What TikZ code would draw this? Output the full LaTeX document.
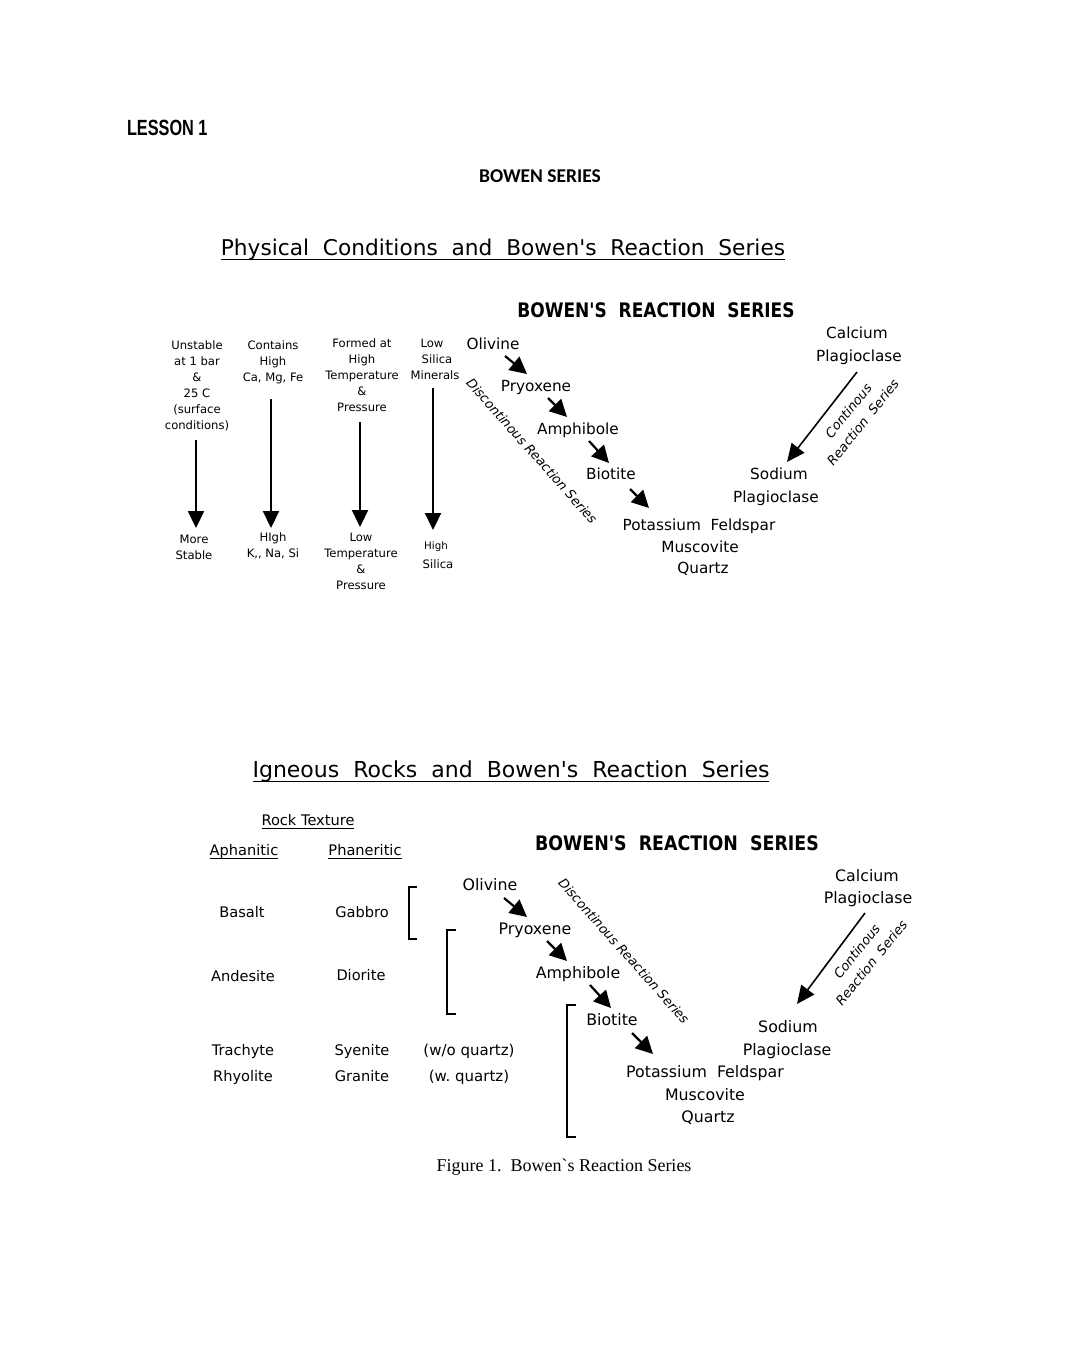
\documentclass[tikz,border=0pt]{standalone}
\usepackage{fontspec}
\usepackage{graphicx}
\usetikzlibrary{arrows.meta}
\setmainfont{DejaVu Sans}
\newfontfamily\genfont{DejaVu Sans}
\newfontfamily\arlfont{Liberation Sans}
\newfontfamily\carlfont{Carlito}
\newfontfamily\tmsfont{Liberation Serif}
\newcommand\fsz[1]{\fontsize{#1}{#1}\selectfont}
\tikzset{
  every node/.style={inner sep=0pt, outer sep=0pt},
  cond/.style={font=\genfont\fsz{11.6}, anchor=base},
  mina/.style={font=\genfont\fsz{15.3}, anchor=base},
  minb/.style={font=\genfont\fsz{15.8}, anchor=base},
  rock/.style={font=\genfont\fsz{14.6}, anchor=base},
  brs/.style={font=\genfont\bfseries\fsz{20}, anchor=base},
  ttl/.style={font=\genfont\fsz{21.7}, anchor=base},
  rot/.style={font=\genfont\itshape\fontsize{13}{18.6}\selectfont, align=center},
  vline/.style={line width=2.2pt, -{Triangle[width=16pt,length=17pt]}},
  darr/.style={line width=2.2pt, -{Triangle[width=17pt,length=17pt]}},
  carr/.style={line width=1.6pt, -{Triangle[width=16pt,length=18pt]}},
  brk/.style={line width=1.6pt},
  ul/.style={line width=1pt},
}
\begin{document}
\begin{tikzpicture}[x=1pt,y=-1pt]
\useasboundingbox (0,0) rectangle (1080,1361);
\fill[white] (0,0) rectangle (1080,1361);

% headers
\node[anchor=base west] (lesson) at (127,135) {\scalebox{0.74}[1]{\arlfont\bfseries\fsz{22}LESSON 1}};
\node[anchor=base] (bseries) at (540,182) {\carlfont\bfseries\fsz{19.5}BOWEN SERIES};

% ---------- Top section ----------
\node[ttl] (t1) at (503,255) {Physical\ \ Conditions\ \ and\ \ Bowen\textquotesingle s\ \ Reaction\ \ Series};
\draw[ul] ([yshift=-4pt]t1.base west) -- ([yshift=-4pt]t1.base east);
\node[brs] (brs1) at (656,317) {\scalebox{0.85}[1]{BOWEN\textquotesingle S\ \ REACTION\ \ SERIES}};

% condition columns
\foreach \t [count=\i] in {{Unstable},{at 1 bar},{\&},{25 C},{(surface},{conditions)}}
  \node[cond] (ca\i) at (197,{349+16*(\i-1)}) {\t};
\node[cond] (cb1) at (194,543) {More};
\node[cond] (cb2) at (194,559) {Stable};
\coordinate (a1s) at (196,440);
\coordinate (a1e) at (196,528);
\draw[vline] (a1s) -- (a1e);

\foreach \t [count=\i] in {{Contains},{High},{Ca, Mg, Fe}}
  \node[cond] (da\i) at (273,{349+16*(\i-1)}) {\t};
\node[cond] (db1) at (273,541) {HIgh};
\node[cond] (db2) at (273,557) {K,, Na, Si};
\coordinate (a2s) at (271,399);
\coordinate (a2e) at (271,528);
\draw[vline] (a2s) -- (a2e);

\foreach \t [count=\i] in {{Formed at},{High},{Temperature},{\&},{Pressure}}
  \node[cond] (ea\i) at (362,{347+16*(\i-1)}) {\t};
\foreach \t [count=\i] in {{Low},{Temperature},{\&},{Pressure}}
  \node[cond] (eb\i) at (361,{541+16*(\i-1)}) {\t};
\coordinate (a3s) at (360,422);
\coordinate (a3e) at (360,527);
\draw[vline] (a3s) -- (a3e);

\node[cond] (fa1) at (432,347) {Low};
\node[cond] (fa2) at (437,363) {Silica};
\node[cond] (fa3) at (435,379) {Minerals};
\node[cond, font=\genfont\fsz{10.3}] (fb1) at (436,549) {High};
\node[cond] (fb2) at (438,568) {Silica};
\coordinate (a4s) at (433,388);
\coordinate (a4e) at (433,530);
\draw[vline] (a4s) -- (a4e);

% minerals top
\node[mina] (ol1) at (493,349.5) {Olivine};
\node[mina] (py1) at (536,391.5) {Pryoxene};
\node[mina] (am1) at (578,434.5) {Amphibole};
\node[mina] (bi1) at (611,479.5) {Biotite};
\node[mina] (kf1) at (699,530.5) {Potassium\ \ Feldspar};
\node[mina] (mu1) at (700,552.5) {Muscovite};
\node[mina] (qz1) at (703,573.5) {Quartz};
\node[mina] (ca1) at (857,338.5) {Calcium};
\node[mina] (cp1) at (859,361.5) {Plagioclase};
\node[mina] (so1) at (779,479.5) {Sodium};
\node[mina] (sp1) at (776,502.5) {Plagioclase};

\coordinate (m1a) at (505,356); \coordinate (m1b) at (527,374);
\coordinate (m2a) at (548,398); \coordinate (m2b) at (567,417);
\coordinate (m3a) at (589,441); \coordinate (m3b) at (609,463);
\coordinate (m4a) at (630,489); \coordinate (m4b) at (649,508);
\draw[darr] (m1a) -- (m1b);
\draw[darr] (m2a) -- (m2b);
\draw[darr] (m3a) -- (m3b);
\draw[darr] (m4a) -- (m4b);
\coordinate (c1a) at (857,372); \coordinate (c1b) at (787,462);
\draw[carr] (c1a) -- (c1b);

\node[rot, rotate=-48.3] (disc1) at (532,451) {Discontinous Reaction Series};
\node[rot, rotate=51] (cont1) at (855.5,416.5) {Continous\\Reaction\ \ Series};

% ---------- Bottom section ----------
\node[ttl, font=\genfont\fsz{22}] (t2) at (511,777) {Igneous\ \ Rocks\ \ and\ \ Bowen\textquotesingle s\ \ Reaction\ \ Series};
\draw[ul] ([yshift=-4pt]t2.base west) -- ([yshift=-4pt]t2.base east);
\node[brs] (brs2) at (677,850) {\scalebox{0.87}[1]{BOWEN\textquotesingle S\ \ REACTION\ \ SERIES}};

\node[rock] (rt) at (308,825) {Rock Texture};
\draw[ul] ([yshift=-3pt]rt.base west) -- ([yshift=-3pt]rt.base east);
\node[rock] (aph) at (244,855) {Aphanitic};
\draw[ul] ([yshift=-3pt]aph.base west) -- ([yshift=-3pt]aph.base east);
\node[rock] (phan) at (365,855) {Phaneritic};
\draw[ul] ([yshift=-3pt]phan.base west) -- ([yshift=-3pt]phan.base east);

\node[rock] (basalt) at (242,917) {Basalt};
\node[rock] (gabbro) at (362,917) {Gabbro};
\node[rock] (andes) at (243,981) {Andesite};
\node[rock] (dior) at (361,980) {Diorite};
\node[rock] (trach) at (243,1055) {Trachyte};
\node[rock] (syen) at (362,1055) {Syenite};
\node[rock] (rhyo) at (243,1081) {Rhyolite};
\node[rock] (gran) at (362,1081) {Granite};
\node[rock, font=\genfont\fsz{15}] (woq) at (469,1055) {(w/o\ quartz)};
\node[rock, font=\genfont\fsz{15}] (wq) at (469,1081) {(w.\ quartz)};

% brackets
\draw[brk] (417,887) -- (409,887) -- (409,939) -- (417,939);
\draw[brk] (456,930) -- (447,930) -- (447,1014) -- (456,1014);
\draw[brk] (576,1005) -- (567,1005) -- (567,1137) -- (576,1137);

% minerals bottom
\node[minb] (ol2) at (490,890.7) {Olivine};
\node[minb] (py2) at (535,934.7) {Pryoxene};
\node[minb] (am2) at (578,978.7) {Amphibole};
\node[minb] (bi2) at (612,1025.7) {Biotite};
\node[minb] (kf2) at (705,1077.7) {Potassium\ \ Feldspar};
\node[minb] (mu2) at (705,1100.7) {Muscovite};
\node[minb] (qz2) at (708,1122.7) {Quartz};
\node[minb] (ca2) at (867,881.7) {Calcium};
\node[minb] (cp2) at (868,903.7) {Plagioclase};
\node[minb] (so2) at (788,1032.7) {Sodium};
\node[minb] (sp2) at (787,1055.7) {Plagioclase};

\coordinate (n1a) at (504,898); \coordinate (n1b) at (527,917);
\coordinate (n2a) at (547,941); \coordinate (n2b) at (567,961);
\coordinate (n3a) at (590,985); \coordinate (n3b) at (611,1008);
\coordinate (n4a) at (632,1033); \coordinate (n4b) at (653,1054);
\draw[darr] (n1a) -- (n1b);
\draw[darr] (n2a) -- (n2b);
\draw[darr] (n3a) -- (n3b);
\draw[darr] (n4a) -- (n4b);
\coordinate (c2a) at (865,913); \coordinate (c2b) at (797,1004);
\draw[carr] (c2a) -- (c2b);

\node[rot, rotate=-48.3] (disc2) at (624,951) {Discontinous Reaction Series};
\node[rot, rotate=51.2] (cont2) at (864,957) {Continous\\Reaction\ \ Series};

% caption
\node[anchor=base] (cap) at (564,1171) {\tmsfont\fsz{18}Figure 1.\ \ Bowen\symbol{96}s Reaction Series};
\end{tikzpicture}
\end{document}
